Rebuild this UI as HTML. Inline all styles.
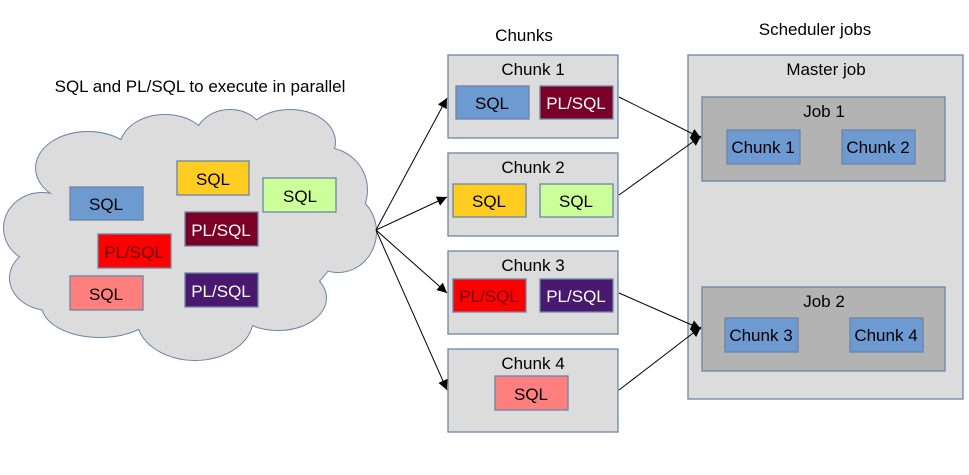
<!DOCTYPE html>
<html><head><meta charset="utf-8"><style>
body{margin:0;background:#fff}
svg text{font-family:"Liberation Sans",sans-serif}
</style></head><body>
<svg width="969" height="470" viewBox="0 0 969 470" xmlns="http://www.w3.org/2000/svg">
<defs>
<marker id="a" viewBox="0 0 10 10" refX="10" refY="5" markerWidth="10" markerHeight="10" markerUnits="userSpaceOnUse" orient="auto"><path d="M0,0L10,5L0,10z" fill="#000"/></marker>
<g id="cl">
<ellipse cx="42" cy="228" rx="38" ry="35"/>
<ellipse cx="88" cy="168" rx="52" ry="36"/>
<ellipse cx="165" cy="148" rx="45" ry="33"/>
<ellipse cx="230" cy="140" rx="35" ry="30"/>
<ellipse cx="290" cy="142" rx="45" ry="32"/>
<ellipse cx="325" cy="190" rx="42" ry="42"/>
<ellipse cx="338" cy="232" rx="38" ry="40"/>
<ellipse cx="278" cy="298" rx="48" ry="32"/>
<ellipse cx="195" cy="318" rx="58" ry="42"/>
<ellipse cx="100" cy="305" rx="58" ry="32"/>
<ellipse cx="50" cy="278" rx="40" ry="32"/>
<ellipse cx="190" cy="235" rx="150" ry="90"/>
</g>
</defs>
<use href="#cl" fill="#dcdcdc" stroke="#6c85a6" stroke-width="2"/>
<use href="#cl" fill="#dcdcdc"/>
<g stroke="#6c85a6" stroke-width="1.3">
<rect x="70" y="187" width="73" height="33" fill="#6d9ad0"/>
<rect x="177" y="161" width="72" height="34" fill="#ffcc22"/>
<rect x="263" y="178" width="73" height="34" fill="#ccff99"/>
<rect x="185" y="212" width="73" height="34" fill="#7b0028"/>
<rect x="98" y="234" width="73" height="34" fill="#ff0000"/>
<rect x="70" y="276" width="73" height="34" fill="#ff7f7f"/>
<rect x="185" y="273" width="73" height="34" fill="#48196e"/>
</g>
<g font-size="17" text-anchor="middle">
<text x="106" y="210">SQL</text>
<text x="213" y="185">SQL</text>
<text x="300" y="202">SQL</text>
<text x="221" y="236" fill="#fff">PL/SQL</text>
<text x="134" y="258" fill="#600">PL/SQL</text>
<text x="106" y="300">SQL</text>
<text x="221" y="297" fill="#fff">PL/SQL</text>
<text x="200" y="92">SQL and PL/SQL to execute in parallel</text>
<text x="524" y="41">Chunks</text>
<text x="815" y="35">Scheduler jobs</text>
</g>
<g stroke="#6c85a6" stroke-width="1.3">
<rect x="448" y="55" width="170" height="83" fill="#dcdcdc"/>
<rect x="448" y="153" width="170" height="83" fill="#dcdcdc"/>
<rect x="448" y="251" width="170" height="83" fill="#dcdcdc"/>
<rect x="448" y="349" width="170" height="83" fill="#dcdcdc"/>
<rect x="688" y="55" width="275" height="344" fill="#dcdcdc"/>
<rect x="702" y="97" width="243" height="84" fill="#b3b3b3"/>
<rect x="702" y="287" width="243" height="84" fill="#b3b3b3"/>
<rect x="456" y="86" width="73" height="33" fill="#6d9ad0"/>
<rect x="540" y="86" width="73" height="33" fill="#7b0028"/>
<rect x="453" y="184" width="73" height="33" fill="#ffcc22"/>
<rect x="540" y="184" width="73" height="33" fill="#ccff99"/>
<rect x="453" y="279" width="73" height="33" fill="#ff0000"/>
<rect x="540" y="279" width="73" height="33" fill="#48196e"/>
<rect x="495" y="376" width="73" height="34" fill="#ff7f7f"/>
<rect x="727" y="130" width="73" height="34" fill="#6d9ad0"/>
<rect x="842" y="130" width="73" height="34" fill="#6d9ad0"/>
<rect x="725" y="318" width="73" height="34" fill="#6d9ad0"/>
<rect x="850" y="318" width="73" height="34" fill="#6d9ad0"/>
</g>
<g font-size="17" text-anchor="middle">
<text x="533" y="75">Chunk 1</text>
<text x="533" y="173">Chunk 2</text>
<text x="533" y="271">Chunk 3</text>
<text x="533" y="369">Chunk 4</text>
<text x="826" y="75">Master job</text>
<text x="824" y="117">Job 1</text>
<text x="824" y="307">Job 2</text>
<text x="492" y="109">SQL</text>
<text x="576" y="109" fill="#fff">PL/SQL</text>
<text x="489" y="207">SQL</text>
<text x="576" y="207">SQL</text>
<text x="489" y="302" fill="#600">PL/SQL</text>
<text x="576" y="302" fill="#fff">PL/SQL</text>
<text x="531" y="400">SQL</text>
<text x="763" y="153">Chunk 1</text>
<text x="878" y="153">Chunk 2</text>
<text x="761" y="341">Chunk 3</text>
<text x="886" y="341">Chunk 4</text>
</g>
<g stroke="#000" stroke-width="1" marker-end="url(#a)">
<line x1="376" y1="230" x2="447" y2="98"/>
<line x1="376" y1="230" x2="447" y2="197"/>
<line x1="376" y1="230" x2="447" y2="293"/>
<line x1="376" y1="230" x2="447" y2="390"/>
<line x1="619" y1="97" x2="701" y2="138"/>
<line x1="619" y1="195" x2="701" y2="136"/>
<line x1="619" y1="293" x2="701" y2="329"/>
<line x1="619" y1="390" x2="701" y2="327"/>
</g>
</svg>
</body></html>
